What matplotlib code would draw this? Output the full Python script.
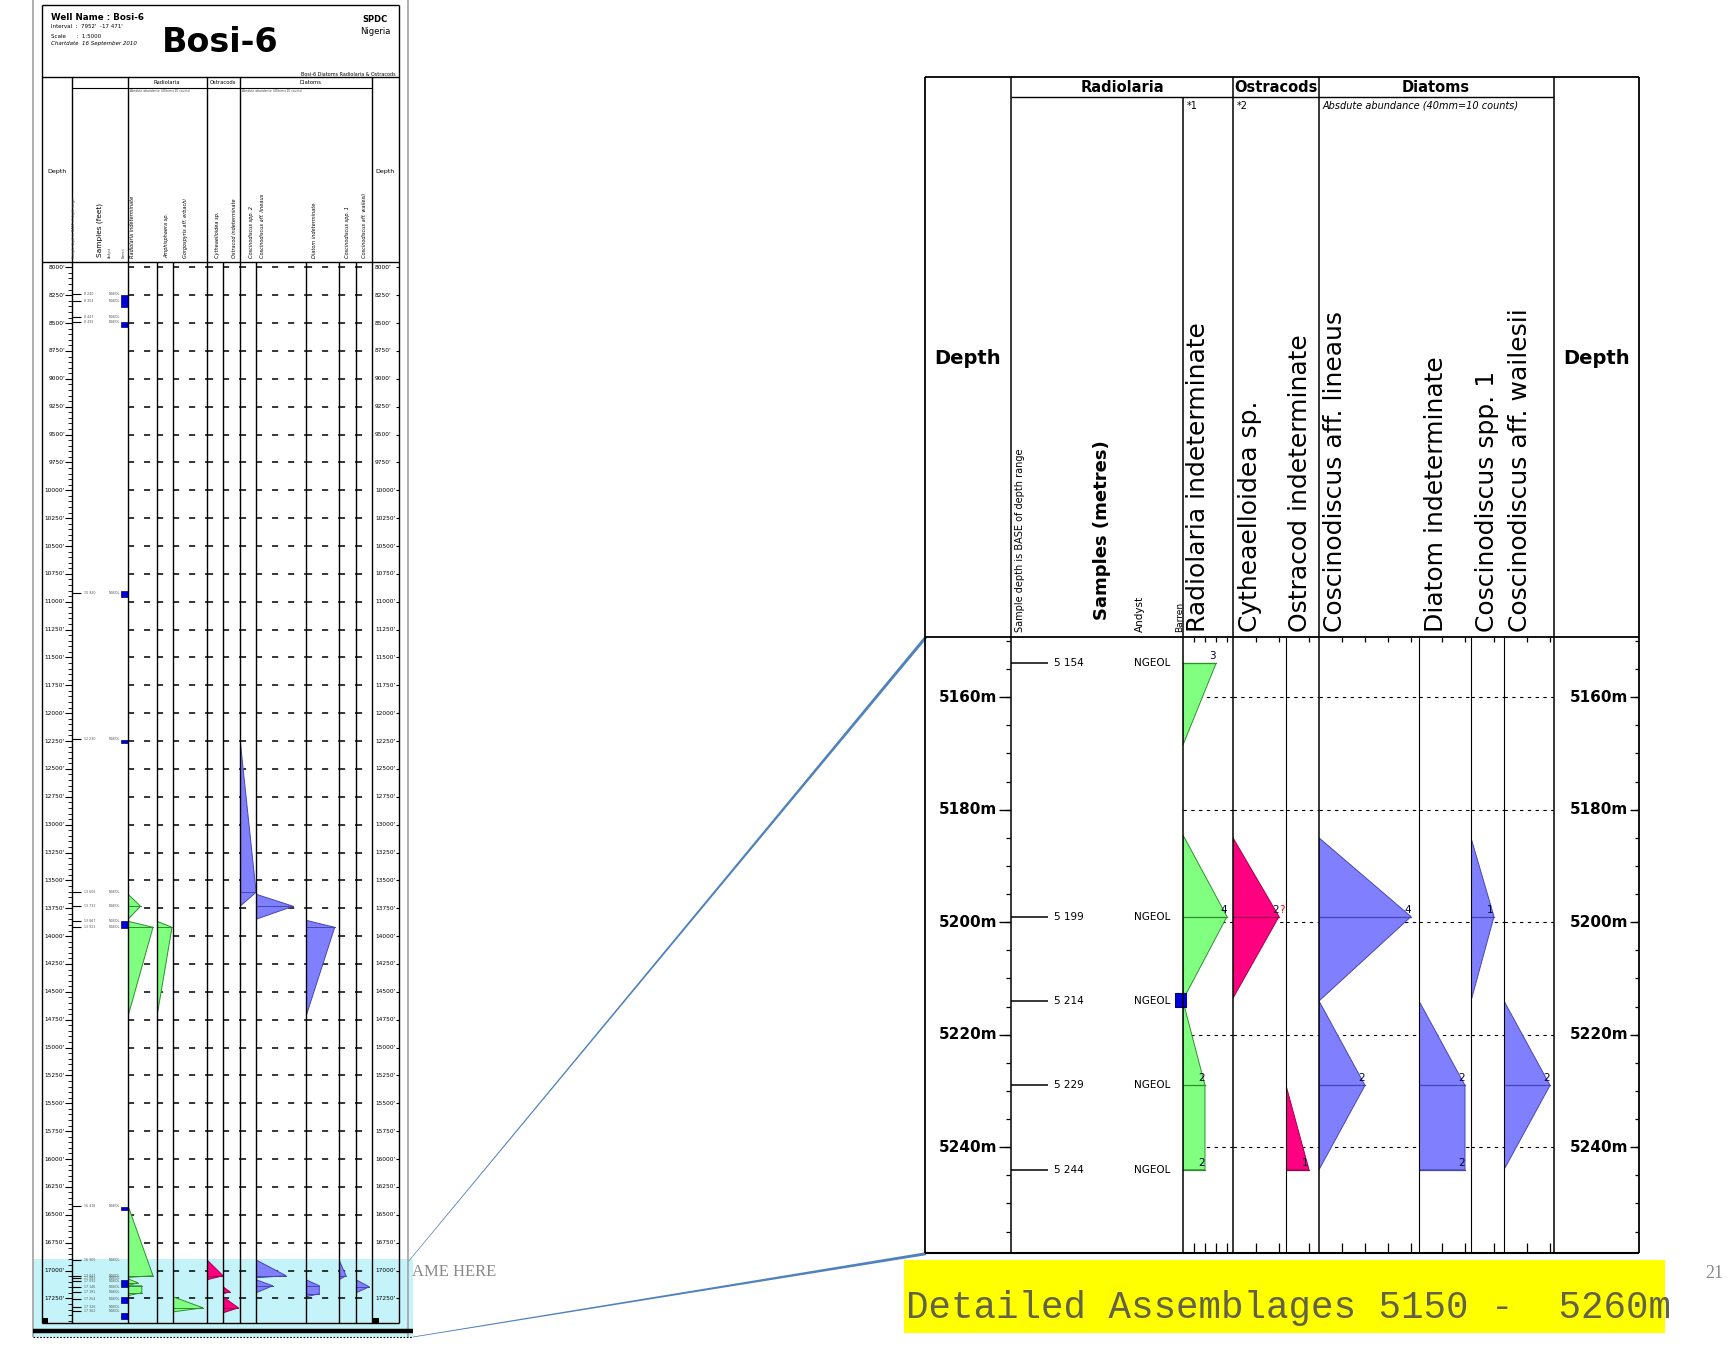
import numpy as np
import matplotlib
matplotlib.use("Agg")
import matplotlib.pyplot as plt
from matplotlib.patches import Rectangle, Polygon

plt.rcParams['font.family'] = ['DejaVu Sans']

# ====================== DATA : detail panel (metres) ======================
DET_GROUPS = ["Radiolaria", "Ostracods", "Diatoms"]
DET_SPECIES = ["Radiolaria indeterminate", "Cytheaelloidea sp.", "Ostracod indeterminate",
               "Coscinodiscus aff. lineaus", "Diatom indeterminate",
               "Coscinodiscus spp. 1", "Coscinodiscus aff. wailesii"]
DET_SPECIES_GROUP = ["Radiolaria", "Ostracods", "Ostracods",
                     "Diatoms", "Diatoms", "Diatoms", "Diatoms"]

rad_ind_depth = [[5154, 5154, 5168.5], [5184.5, 5199, 5213.8], [5214, 5229, 5244, 5244]]
rad_ind_count = [[0, 3, 0], [0, 4, 0], [0, 2, 2, 0]]
cyth_depth = [[5185, 5199, 5213.5]]
cyth_count = [[0, 2, 0]]
ostr_ind_depth = [[5229, 5244, 5244]]
ostr_ind_count = [[0, 1, 0]]
cosc_lin_depth = [[5185, 5199, 5214], [5214, 5229, 5244]]
cosc_lin_count = [[0, 4, 0], [0, 2, 0]]
diat_ind_depth = [[5214, 5229, 5244, 5244]]
diat_ind_count = [[0, 2, 2, 0]]
cosc_sp1_depth = [[5185, 5199, 5214]]
cosc_sp1_count = [[0, 1, 0]]
cosc_wai_depth = [[5214, 5229, 5244]]
cosc_wai_count = [[0, 2, 0]]

# count labels: depth, count, text
rad_ind_lbl = ([5154, 5199, 5229, 5244], [3, 4, 2, 2], ["3", "4", "2", "2"])
cyth_lbl = ([5199], [2], ["2?"])
ostr_ind_lbl = ([5244], [1], ["1"])
cosc_lin_lbl = ([5199, 5229], [4, 2], ["4", "2"])
diat_ind_lbl = ([5229, 5244], [2, 2], ["2", "2"])
cosc_sp1_lbl = ([5199], [1], ["1"])
cosc_wai_lbl = ([5229], [2], ["2"])

DET_SAMPLES = [5154, 5199, 5214, 5229, 5244]
DET_SAMPLE_LABELS = ["5 154", "5 199", "5 214", "5 229", "5 244"]
DET_ANALYST = ["NGEOL", "NGEOL", "NGEOL", "NGEOL", "NGEOL"]
DET_BARREN_TOP = [5212.6]
DET_BARREN_BASE = [5215.1]
DET_DEPTH_MAJOR = [5160, 5180, 5200, 5220, 5240]
DET_DEPTH_LABELS = ["5160m", "5180m", "5200m", "5220m", "5240m"]
DET_DEPTH_TOP, DET_DEPTH_BASE = 5149.3, 5258.8

# ====================== DATA : overview well chart (feet) ======================
TH_SPECIES = ["Radiolaria indeterminate", "Amphisphaera sp.", "Gorgospyris aff. erbachi",
              "Cytheaelloidea sp.", "Ostracod indeterminate", "Coscinodiscus spp. 2",
              "Coscinodiscus aff. lineaus", "Diatom indeterminate",
              "Coscinodiscus spp. 1", "Coscinodiscus aff. wailesii"]
TH_SPECIES_GROUP = ["Radiolaria", "Radiolaria", "Radiolaria", "Ostracods", "Ostracods",
                    "Diatoms", "Diatoms", "Diatoms", "Diatoms", "Diatoms"]

th_rad_depth = [[13624, 13732, 13849], [13867, 13921, 14720], [16418, 17047, 17062],
                [17075, 17110, 17135], [17137, 17137, 17200, 17225]]
th_rad_count = [[0, 2, 0], [0, 4, 0], [0, 4, 0], [0, 1.6, 0], [0, 2.2, 2.2, 0]]
th_amph_depth = [[13867, 13921, 14720]]
th_amph_count = [[0, 2.4, 0]]
th_gorg_depth = [[17236, 17335, 17371]]
th_gorg_count = [[0, 4.8, 0]]
th_cyth_depth = [[16905, 17047, 17083]]
th_cyth_count = [[0, 2.3, 0]]
th_ostr_depth = [[17146, 17191, 17209], [17236, 17335, 17380]]
th_ostr_count = [[0, 1, 0], [0, 2.2, 0]]
th_sp2_depth = [[12232, 13606, 13732]]
th_sp2_count = [[0, 2.3, 0]]
th_lin_depth = [[13624, 13732, 13849], [16905, 17047, 17065], [17083, 17137, 17200]]
th_lin_count = [[0, 5.3, 0], [0, 4.3, 0], [0, 2.4, 0]]
th_din_depth = [[13858, 13921, 14720], [17083, 17137, 17209, 17236]]
th_din_count = [[0, 4.1, 0], [0, 1.9, 1.9, 0]]
th_sp1_depth = [[16905, 17047, 17083]]
th_sp1_count = [[0, 1, 0]]
th_wai_depth = [[17083, 17146, 17200]]
th_wai_count = [[0, 1.9, 0]]

TH_SAMPLES = [8240, 8303, 8447, 8492, 10920, 12230, 13606, 13732, 13867, 13921,
              16418, 16905, 17047, 17065, 17092, 17146, 17191, 17254, 17326, 17362]
TH_BARREN_TOP = [8248, 8490, 10904, 12240, 13864, 16427, 17083, 17235, 17380]
TH_BARREN_BASE = [8356, 8535, 10958, 12270, 13927, 16454, 17146, 17290, 17434]
TH_DEPTH_TOP, TH_DEPTH_BASE = 7952, 17471
TH_DEPTH_MAJOR = list(range(8000, 17251, 250))
TH_DEPTH_LABELS = [f"{d}'" for d in TH_DEPTH_MAJOR]

# ====================== STYLE ======================
FILL = {"Radiolaria": "#80ff80", "Ostracods": "#ff0080", "Diatoms": "#8080ff"}
EDGE = {"Radiolaria": "#2f8f2f", "Ostracods": "#a0004f", "Diatoms": "#4646b4"}
BARREN_FC, BARREN_EC = "#0000dd", "#000070"

W, H = 1732, 1347
fig = plt.figure(figsize=(W / 100, H / 100), dpi=100)
fig.patch.set_facecolor("white")


def px_axes(x0, y0, x1, y1, z=5):
    ax = fig.add_axes([x0 / W, 1 - y1 / H, (x1 - x0) / W, (y1 - y0) / H])
    ax.set_axis_off()
    ax.patch.set_visible(False)
    ax.set_zorder(z)
    return ax


bg = px_axes(0, 0, W, H, z=0)
bg.set_xlim(0, W); bg.set_ylim(H, 0)
ov = px_axes(0, 0, W, H, z=20)
ov.set_xlim(0, W); ov.set_ylim(H, 0)


def vline(x, y0, y1, lw=1.0, color="black"):
    ov.plot([x, x], [y0, y1], color=color, lw=lw, solid_capstyle="butt")


def hline(y, x0, x1, lw=1.0, color="black"):
    ov.plot([x0, x1], [y, y], color=color, lw=lw, solid_capstyle="butt")


def draw_species(ax, depths, counts, group, grid, grid_lw, grid_dash, line_lw=0.9):
    for g in grid:
        ax.axhline(g, color="black", lw=grid_lw, ls=grid_dash, zorder=1)
    for dep, cnt in zip(depths, counts):
        ax.fill(cnt, dep, facecolor=FILL[group], edgecolor=EDGE[group], lw=0.7, zorder=3)
        for d, c in zip(dep, cnt):
            if c > 0:
                ax.plot([0, c], [d, d], color=EDGE[group], lw=line_lw, zorder=4)


# ====================== background patches ======================
bg.add_patch(Rectangle((33, 1259), 380, 78, facecolor="#c4f4f9", edgecolor="none"))
bg.add_patch(Rectangle((904, 1260), 761, 73, facecolor="#ffff00", edgecolor="none"))

# ====================== DETAIL PANEL ======================
DY0, DY1 = 637, 1253
DET_COLS = [(1183, 1233), (1233, 1286), (1286, 1319), (1319, 1419),
            (1419, 1471), (1471, 1504), (1504, 1554)]
DET_PPC = [11, 23, 23, 23, 23, 23, 23]
DET_DEPTHS = [rad_ind_depth, cyth_depth, ostr_ind_depth, cosc_lin_depth,
              diat_ind_depth, cosc_sp1_depth, cosc_wai_depth]
DET_COUNTS = [rad_ind_count, cyth_count, ostr_ind_count, cosc_lin_count,
              diat_ind_count, cosc_sp1_count, cosc_wai_count]
DET_LBLS = [rad_ind_lbl, cyth_lbl, ostr_ind_lbl, cosc_lin_lbl,
            diat_ind_lbl, cosc_sp1_lbl, cosc_wai_lbl]
hpx = DY1 - DY0

for (x0, x1), ppc, deps, cnts, lbl, grp in zip(DET_COLS, DET_PPC, DET_DEPTHS, DET_COUNTS,
                                               DET_LBLS, DET_SPECIES_GROUP):
    ax = px_axes(x0, DY0, x1, DY1)
    xmax = (x1 - x0) / ppc
    ax.set_xlim(0, xmax)
    ax.set_ylim(DET_DEPTH_BASE, DET_DEPTH_TOP)
    draw_species(ax, deps, cnts, grp, DET_DEPTH_MAJOR, 0.8, (0, (3, 4)))
    ticks = [t for t in range(1, int(xmax) + 1) if t < xmax - 0.1]
    tr = ax.get_xaxis_transform()
    ax.vlines(ticks, 0, 10 / hpx, transform=tr, color="black", lw=0.9)
    ax.vlines(ticks, 1 - 5 / hpx, 1, transform=tr, color="black", lw=0.9)
    for d, c, t in zip(*lbl):
        if t.endswith("?"):
            ax.annotate(t[:-1], (c, d), xytext=(-2.5, 1.5), textcoords="offset points",
                        ha="center", va="bottom", fontsize=7.5, color="#000030", zorder=6)
            ax.annotate("?", (c, d), xytext=(2.5, 1.5), textcoords="offset points",
                        ha="center", va="bottom", fontsize=7.5, color="red", zorder=6)
        else:
            ax.annotate(t, (c, d), xytext=(-2.5, 1.5), textcoords="offset points",
                        ha="center", va="bottom", fontsize=7.5, color="#000030", zorder=6)

# samples column
axs = px_axes(1011, DY0, 1183, DY1)
axs.set_xlim(0, 172)
axs.set_ylim(DET_DEPTH_BASE, DET_DEPTH_TOP)
axs.hlines(DET_SAMPLES, 0, 37, color="black", lw=1.1)
for d, s, a in zip(DET_SAMPLES, DET_SAMPLE_LABELS, DET_ANALYST):
    axs.text(43, d, s, fontsize=7.5, va="center", ha="left")
    axs.text(123, d, a, fontsize=7.5, va="center", ha="left")

axb = px_axes(1175, DY0, 1187, DY1, z=7)
axb.set_xlim(0, 1)
axb.set_ylim(DET_DEPTH_BASE, DET_DEPTH_TOP)
bt, bb = np.array(DET_BARREN_TOP), np.array(DET_BARREN_BASE)
axb.barh((bt + bb) / 2, 1, height=bb - bt, left=0, color=BARREN_FC, edgecolor=BARREN_EC, lw=0.8)

# depth scales
minor = np.arange(5150, 5260, 5)
axd = px_axes(925, DY0, 1011, DY1)
axd.set_ylim(DET_DEPTH_BASE, DET_DEPTH_TOP)
tr = axd.get_yaxis_transform()
axd.hlines(minor, 1 - 5 / 86, 1, transform=tr, color="black", lw=0.9)
axd.hlines(DET_DEPTH_MAJOR, 1 - 12 / 86, 1, transform=tr, color="black", lw=1.0)
for d, t in zip(DET_DEPTH_MAJOR, DET_DEPTH_LABELS):
    axd.text(1 - 14 / 86, d, t, transform=tr, ha="right", va="center",
             fontsize=11, fontweight="bold")

axr = px_axes(1554, DY0, 1639, DY1)
axr.set_ylim(DET_DEPTH_BASE, DET_DEPTH_TOP)
tr = axr.get_yaxis_transform()
axr.hlines(minor, 1 - 4 / 85, 1, transform=tr, color="black", lw=0.9)
axr.hlines(DET_DEPTH_MAJOR, 1 - 9 / 85, 1, transform=tr, color="black", lw=1.0)
for d, t in zip(DET_DEPTH_MAJOR, DET_DEPTH_LABELS):
    axr.text(1 - 11 / 85, d, t, transform=tr, ha="right", va="center",
             fontsize=11, fontweight="bold")

# frame of detail panel
for x in (925, 1639):
    vline(x, 77, 1253, lw=1.3)
for x in (1011, 1233, 1319, 1554):
    vline(x, 77, 1253, lw=1.1)
vline(1183, 97, 1253, lw=1.1)
for x in (1286, 1419, 1471, 1504):
    vline(x, DY0, 1253, lw=0.8)
hline(77, 925, 1639, lw=1.3)
hline(97, 1011, 1554, lw=1.0)
hline(DY0, 925, 1639, lw=1.3)
hline(1253, 925, 1639, lw=1.5)

# header texts
ov.text(1122, 87, DET_GROUPS[0], ha="center", va="center", fontsize=10.5, fontweight="bold")
ov.text(1276, 87, DET_GROUPS[1], ha="center", va="center", fontsize=10.5, fontweight="bold")
ov.text(1436, 87, DET_GROUPS[2], ha="center", va="center", fontsize=10.5, fontweight="bold")
ov.text(1187, 106, "*1", fontsize=7, va="center")
ov.text(1237, 106, "*2", fontsize=7, va="center")
ov.text(1323, 106, "Absdute abundance (40mm=10 counts)", fontsize=7, va="center",
        fontstyle="italic")
DET_LABEL_X = [1198, 1250, 1300, 1335, 1436, 1487, 1520]
for name, xc in zip(DET_SPECIES, DET_LABEL_X):
    ov.text(xc, 632, name, rotation=90, ha="center", va="bottom", fontsize=18)
ov.text(1102, 620, "Samples (metres)", rotation=90, ha="center", va="bottom",
        fontsize=13, fontweight="bold")
ov.text(1020, 632, "Sample depth is BASE of depth range", rotation=90, ha="center",
        va="bottom", fontsize=7)
ov.text(1140, 632, "Andyst", rotation=90, ha="center", va="bottom", fontsize=7.5)
ov.text(1180, 632, "Barren", rotation=90, ha="center", va="bottom", fontsize=6.5)
ov.text(968, 359, "Depth", ha="center", va="center", fontsize=14, fontweight="bold")
ov.text(1597, 359, "Depth", ha="center", va="center", fontsize=14, fontweight="bold")

# ====================== OVERVIEW (thumbnail) ======================
TY0, TY1 = 262, 1323
TH_COLS = [(128, 157), (157, 173), (173, 207), (207, 223), (223, 240), (240, 256),
           (256, 306), (306, 339), (339, 356), (356, 372)]
TH_PPC = [6.25, 6.25, 6.25, 7, 7, 7, 7, 7, 7, 7]
TH_DEPTHS = [th_rad_depth, th_amph_depth, th_gorg_depth, th_cyth_depth, th_ostr_depth,
             th_sp2_depth, th_lin_depth, th_din_depth, th_sp1_depth, th_wai_depth]
TH_COUNTS = [th_rad_count, th_amph_count, th_gorg_count, th_cyth_count, th_ostr_count,
             th_sp2_count, th_lin_count, th_din_count, th_sp1_count, th_wai_count]
for (x0, x1), ppc, deps, cnts, grp in zip(TH_COLS, TH_PPC, TH_DEPTHS, TH_COUNTS,
                                          TH_SPECIES_GROUP):
    ax = px_axes(x0, TY0, x1, TY1)
    ax.set_xlim(0, (x1 - x0) / ppc)
    ax.set_ylim(TH_DEPTH_BASE, TH_DEPTH_TOP)
    draw_species(ax, deps, cnts, grp, TH_DEPTH_MAJOR, 1.1, (0, (4, 6.5)), line_lw=0.7)

axts = px_axes(72, TY0, 128, TY1)
axts.set_xlim(0, 56)
axts.set_ylim(TH_DEPTH_BASE, TH_DEPTH_TOP)
axts.hlines(TH_SAMPLES, 0, 9, color="black", lw=0.8)
for d in TH_SAMPLES:
    axts.text(12, d, f"{d:,}".replace(",", " "), fontsize=2.3, color="#555555", va="center")
    axts.text(37, d, "NGEOL", fontsize=2.3, color="#555555", va="center")

axtb = px_axes(121, TY0, 128, TY1, z=7)
axtb.set_xlim(0, 1)
axtb.set_ylim(TH_DEPTH_BASE, TH_DEPTH_TOP)
bt, bb = np.array(TH_BARREN_TOP), np.array(TH_BARREN_BASE)
axtb.barh((bt + bb) / 2, 1, height=bb - bt, left=0, color=BARREN_FC, edgecolor=BARREN_EC, lw=0.5)

th_minor = np.arange(8000, 17451, 50)
axtd = px_axes(42, TY0, 72, TY1)
axtd.set_ylim(TH_DEPTH_BASE, TH_DEPTH_TOP)
tr = axtd.get_yaxis_transform()
axtd.hlines(th_minor, 1 - 4 / 30, 1, transform=tr, color="black", lw=0.6)
axtd.hlines(TH_DEPTH_MAJOR, 1 - 7 / 30, 1, transform=tr, color="black", lw=0.8)
for d, t in zip(TH_DEPTH_MAJOR, TH_DEPTH_LABELS):
    axtd.text(1 - 7 / 30, d, t, transform=tr, ha="right", va="center", fontsize=4.2)
axtr = px_axes(372, TY0, 399, TY1)
axtr.set_ylim(TH_DEPTH_BASE, TH_DEPTH_TOP)
tr = axtr.get_yaxis_transform()
axtr.hlines(TH_DEPTH_MAJOR, 1 - 3 / 27, 1, transform=tr, color="black", lw=0.8)
for d, t in zip(TH_DEPTH_MAJOR, TH_DEPTH_LABELS):
    axtr.text(3 / 27, d, t, transform=tr, ha="left", va="center", fontsize=4.2)

# thumbnail frame
vline(33, 0, 1337, lw=1.3, color="#a8a8a8")
vline(408, 0, 1337, lw=1.3, color="#a8a8a8")
for x in (42, 399):
    vline(x, 5, TY1, lw=1.0)
for x in (72, 128, 207, 240, 372):
    vline(x, 77, TY1, lw=1.0)
for x in (157, 173, 223, 256, 306, 339, 356):
    vline(x, TY0, TY1, lw=1.0)
hline(5, 42, 399, lw=1.0)
hline(77, 42, 399, lw=1.0)
hline(88, 72, 372, lw=0.8)
hline(TY0, 42, 399, lw=1.0)
hline(TY1, 42, 399, lw=1.0)
ov.add_patch(Rectangle((42, 1318), 6, 5, facecolor="black", edgecolor="none"))
ov.add_patch(Rectangle((373, 1318), 6, 5, facecolor="black", edgecolor="none"))
hline(1331, 33, 413, lw=3.2)
ov.plot([33, 413], [1336.5, 1336.5], color="black", lw=0.8, ls=(0, (1.5, 1.5)))

# thumbnail header text
ov.text(51, 17, "Well Name : Bosi-6", fontsize=6.3, fontweight="bold", va="center")
ov.text(51, 27, "Interval  :  7952'  -17 471'", fontsize=4, va="center")
ov.text(51, 36, "Scale      :  1:5000", fontsize=4, va="center")
ov.text(51, 44, "Chartdate  16 September 2010", fontsize=4, va="center", fontstyle="italic")
ov.text(220, 43, "Bosi-6", fontsize=24, fontweight="bold", ha="center", va="center")
ov.text(362, 19, "SPDC", fontsize=6, fontweight="bold", va="center")
ov.text(360, 32, "Nigeria", fontsize=6, va="center")
ov.text(396, 74, "Bosi-6 Diatoms Radiolaria & Ostracods", fontsize=3.5, ha="right", va="center")
ov.text(167, 82.5, "Radiolaria", fontsize=3.8, ha="center", va="center")
ov.text(223, 82.5, "Ostracods", fontsize=3.8, ha="center", va="center")
ov.text(310, 82.5, "Diatoms", fontsize=3.8, ha="center", va="center")
ov.text(130, 91, "Absdute abundance (40mm=10 counts)", fontsize=2.2, va="center", color="#444444")
ov.text(242, 91, "Absdute abundance (40mm=10 counts)", fontsize=2.2, va="center", color="#444444")
ov.text(57, 171, "Depth", fontsize=4.5, ha="center", va="center")
ov.text(385, 171, "Depth", fontsize=4.5, ha="center", va="center")
ov.text(100, 257, "Samples (feet)", rotation=90, fontsize=5.3, ha="center", va="bottom")
ov.text(74, 258, "Sample depth is BASE of depth range", rotation=90, fontsize=2.3,
        ha="center", va="bottom", color="#444444")
ov.text(110, 258, "Andyst", rotation=90, fontsize=2.3, ha="center", va="bottom", color="#444444")
ov.text(124, 258, "Barren", rotation=90, fontsize=2.3, ha="center", va="bottom", color="#444444")
TH_LABEL_X = [133, 167, 186, 218, 235, 252, 263, 315, 347, 364]
for name, xc in zip(TH_SPECIES, TH_LABEL_X):
    ov.text(xc, 258, name, rotation=90, ha="center", va="bottom", fontsize=3.6,
            fontstyle="italic")

# ====================== connectors and captions ======================
BLUE = "#4f81bd"
ov.add_patch(Polygon([(407.6, 1262), (408.4, 1262), (928, 637), (924, 637)],
                     closed=True, facecolor=BLUE, edgecolor="none"))
ov.add_patch(Polygon([(413, 1336.6), (413, 1337.4), (926, 1255.2), (926, 1252.2)],
                     closed=True, facecolor=BLUE, edgecolor="none"))

ov.text(412, 1272, "AME HERE", fontfamily="Liberation Serif", fontsize=12,
        color="#8a8a8a", va="center", ha="left")
ov.text(1714, 1273, "21", fontfamily="Liberation Serif", fontsize=13,
        color="#8a8a8a", va="center", ha="center")
ov.text(906, 1318, "Detailed Assemblages 5150 -  5260m", fontfamily="Liberation Mono",
        fontsize=27, color="#62624a", va="baseline", ha="left")

fig.savefig("out.png", dpi=100)
